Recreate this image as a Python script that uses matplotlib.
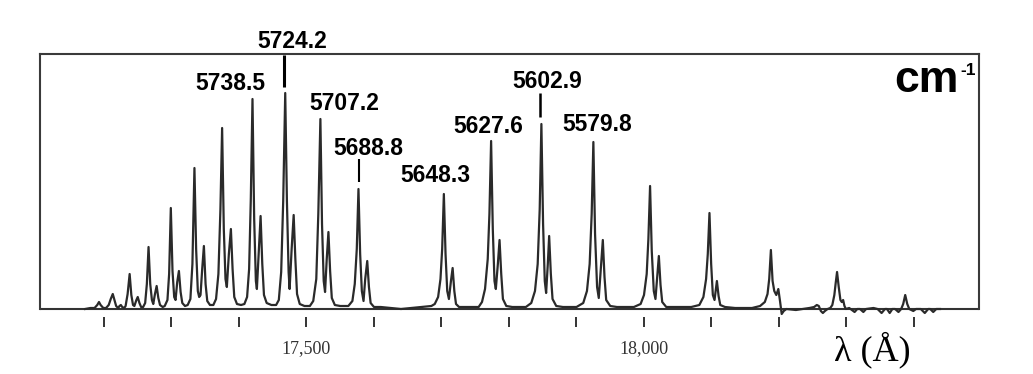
import matplotlib.pyplot as plt

# spectrum trace: (wavelength in A, height above baseline)
trace = [
    (17172, 0), (17180, 1), (17186, 1), (17190, 4), (17192.6, 7), (17195, 4), (17199, 1), (17203, 1),
    (17207, 4), (17210, 10), (17213, 15), (17215.5, 9), (17218, 3), (17221, 1), (17223, 3), (17225, 4),
    (17227, 2), (17230, 1),
    (17232, 3), (17235, 15), (17238, 35), (17240.5, 14), (17243, 4), (17245, 3), (17248, 9), (17250, 12),
    (17252.5, 6), (17255, 2), (17258, 2),
    (17261, 6), (17263.5, 25), (17266, 62), (17268.5, 25), (17271, 9), (17273, 5), (17275.5, 15), (17278, 23),
    (17280.5, 11), (17283, 4), (17287, 2),
    (17290, 3), (17294, 9), (17296.5, 35), (17299, 101), (17301.5, 38), (17304, 12), (17306, 9), (17308.5, 27),
    (17311, 38), (17313.5, 17), (17316, 6), (17320, 3),
    (17324, 4), (17328, 10), (17331, 45), (17334, 141), (17336.5, 60), (17339, 18), (17341, 12), (17343, 14),
    (17345.5, 40), (17348, 63), (17350.5, 25), (17353, 8), (17357, 4),
    (17362, 4), (17366, 10), (17369.5, 35), (17372.5, 100), (17375, 181), (17377.5, 80), (17380, 30), (17382, 22),
    (17385, 55), (17388, 80), (17390.5, 40), (17393, 12), (17397, 5), (17403, 4),
    (17408, 5), (17412, 12), (17415, 40), (17417.5, 110), (17420, 210), (17422.5, 90), (17425, 28), (17426.5, 20),
    (17429.5, 60), (17432, 93), (17434.5, 45), (17437, 14), (17441, 6), (17448, 4),
    (17455, 4), (17459, 9), (17462.5, 37), (17465.5, 108), (17468.5, 216), (17471, 108), (17473.5, 37), (17475, 20),
    (17478, 60), (17481, 94), (17483.5, 50), (17486, 15), (17490, 5), (17497, 3),
    (17505, 3), (17510, 8), (17514.5, 30), (17517.5, 95), (17520.6, 190), (17523, 85), (17525.5, 28), (17527.5, 17),
    (17530, 50), (17532.5, 77), (17535, 38), (17537.5, 11), (17542, 4), (17550, 3),
    (17562, 3), (17568, 8), (17571.5, 25), (17574.5, 60), (17577, 120), (17579.5, 55), (17582, 18), (17584.5, 8),
    (17587, 30), (17590, 48), (17592.5, 22), (17595, 6), (17600, 2),
    (17610, 2), (17625, 1), (17640, 0), (17655, 1), (17670, 2), (17685, 3),
    (17690, 5), (17695, 12), (17698.5, 30), (17701, 60), (17703.5, 115), (17706, 55), (17708.5, 18), (17711, 10),
    (17714, 28), (17716.5, 41), (17719, 18), (17721.5, 5), (17726, 2), (17735, 2),
    (17755, 2), (17760, 7), (17764.5, 20), (17768.5, 50), (17771, 95), (17773.5, 168), (17776, 80), (17778.5, 28),
    (17780.5, 20), (17783.5, 45), (17786, 69), (17788.5, 35), (17791, 10), (17796, 3), (17805, 2),
    (17825, 2), (17833, 6), (17838.5, 18), (17842.5, 45), (17845.5, 100), (17848, 185), (17850.5, 85), (17853, 28),
    (17855, 16), (17857.5, 45), (17859.5, 73), (17862, 35), (17864.5, 10), (17870, 3), (17880, 2),
    (17900, 2), (17910, 6), (17915.5, 18), (17919.5, 45), (17922.5, 95), (17925, 167), (17927.5, 75), (17930.5, 22),
    (17933, 11), (17936, 40), (17939, 69), (17941.5, 32), (17944, 9), (17950, 3), (17960, 2),
    (17985, 2), (17995, 5), (18000, 14), (18004, 35), (18006.5, 70), (18009, 123), (18011.5, 58), (18014.5, 18),
    (18017, 10), (18019.5, 32), (18022, 53), (18024.5, 24), (18027, 7), (18033, 2), (18045, 2),
    (18070, 2), (18082, 4), (18088, 12), (18092, 30), (18094.5, 55), (18097, 96), (18099.5, 45), (18102, 14),
    (18104.5, 9), (18106.5, 20), (18108, 28), (18110.5, 13), (18113, 4), (18120, 2), (18135, 1),
    (18160, 1), (18172, 3), (18179, 7), (18183, 15), (18185.5, 30), (18188, 59), (18190.5, 28), (18193, 18),
    (18196, 14), (18199, 20), (18201.5, 8), (18204, -5), (18207, -2), (18211, 0),
    (18225, -1), (18235, 0), (18245, 1), (18252, 2), (18256, 4), (18259, 3), (18262, -2), (18265, -4),
    (18268, -2), (18272, 0),
    (18276, 1), (18279, 4), (18282, 14), (18284, 26), (18286, 37), (18288.5, 22), (18291, 9), (18293, 7),
    (18295, 9), (18297, 3), (18299, 0), (18304, 1), (18308, -1), (18312, -3), (18316, 0), (18320, 0),
    (18325, -3), (18329, 0),
    (18340, 1), (18346, 0), (18352, -4), (18357, 0), (18360, 0), (18364, -4), (18368, 0), (18372, 0),
    (18377, -3), (18381, 0), (18384, 5), (18387, 14), (18390, 5), (18393, 0), (18396, -1), (18399, -2),
    (18403, 0), (18410, 0), (18416, -4), (18421, 0), (18424, 0), (18428.5, -3), (18433, 0), (18438.5, 0),
]
wl = [p[0] for p in trace]
inten = [p[1] for p in trace]

tick_pos = [17200, 17300, 17400, 17500, 17600, 17700, 17800, 17900, 18000, 18100, 18200, 18300, 18400]
tick_lab = ['', '', '', '17,500', '', '', '', '', '18,000', '', '', '', '']

# band head labels (cm-1) and where they sit
peak_labels = ['5724.2', '5738.5', '5707.2', '5688.8', '5648.3', '5627.6', '5602.9', '5579.8']
label_x = [17478.5, 17386.7, 17555.6, 17591.1, 17690.4, 17768.9, 17856.3, 17930.4]
label_y = [261, 219, 199, 154, 127, 176, 221, 178]

# short marker bars under some labels
mark_x = [17466.7, 17577.8, 17845.9]
mark_y0 = [222, 127, 192]
mark_y1 = [254, 150, 216]
mark_lw = [2.2, 1.5, 1.8]

W, H = 1033, 374
fig = plt.figure(figsize=(W / 100, H / 100), dpi=100)
ax = fig.add_axes([40 / W, (H - 317) / H, 939 / W, (317 - 54) / H])

ax.plot(wl, inten, color='#2a2a2a', lw=1.6, solid_joinstyle='round', clip_on=False)
ax.axhline(0, color='#333333', lw=1.5, zorder=1)

ax.set_xlim(17105.2, 18496.3)
ax.set_ylim(-8, 255)

for s in ['top', 'left', 'right']:
    ax.spines[s].set_linewidth(1.5)
    ax.spines[s].set_color('#3a3a3a')
ax.spines['left'].set_bounds(0, 255)
ax.spines['right'].set_bounds(0, 255)
ax.spines['bottom'].set_visible(False)
ax.set_yticks([])
ax.set_xticks(tick_pos)
ax.set_xticklabels(tick_lab, family=['Liberation Serif', 'DejaVu Serif'], fontsize=13, color='#333333')
ax.tick_params(axis='x', direction='out', length=7.2, width=1.4, color='#333333', pad=9.5)

for t, x, y in zip(peak_labels, label_x, label_y):
    ax.text(x, y, t, ha='center', va='baseline', fontsize=16.5, fontweight='bold',
            family=['Liberation Sans', 'DejaVu Sans'], color='black')

for x, y0, y1, lw in zip(mark_x, mark_y0, mark_y1, mark_lw):
    ax.plot([x, x], [y0, y1], color='black', lw=lw, solid_capstyle='butt', clip_on=False)

fig.text(894 / W, (H - 92) / H, 'cm', fontsize=32, fontweight='bold',
         family=['Liberation Sans', 'DejaVu Sans'], ha='left', va='baseline')
fig.text(960 / W, (H - 75) / H, '-1', fontsize=12.5, fontweight='bold',
         family=['Liberation Sans', 'DejaVu Sans'], ha='left', va='baseline')

fig.text(872 / W, (H - 360) / H, 'λ (Å)', fontsize=26,
         family=['Liberation Serif', 'DejaVu Serif'], ha='center', va='baseline')

fig.savefig('out.png', dpi=100)
